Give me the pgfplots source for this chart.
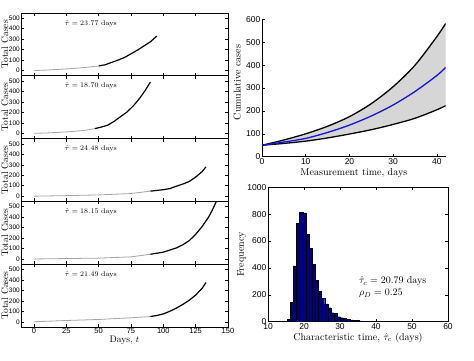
\documentclass[border=0pt]{standalone}
\usepackage{pgfplots}
\pgfplotsset{compat=1.18}
\usepackage{fontspec}
\newfontfamily\tickfont{Liberation Sans}
\definecolor{gline}{RGB}{165,165,165}
\definecolor{band}{RGB}{214,214,214}
\definecolor{navy}{RGB}{0,0,128}
\definecolor{mblue}{RGB}{20,20,225}

\pgfplotsset{
 leftpanel/.style={scale only axis, width=207pt, height=62.8pt,
   xmin=-10, xmax=150, ymin=-50, ymax=550,
   xtick={0,25,...,150}, ytick={0,100,...,500},
   axis line style={line width=0.6pt}, major tick length=3pt,
   tick style={line width=0.5pt, black},
   yticklabel style={font=\tickfont\fontsize{6.5}{7}\selectfont, inner sep=1pt},
   xticklabel style={font=\tickfont\fontsize{7.5}{8}\selectfont, inner sep=1pt},
   /pgf/number format/assume math mode=true,
   ylabel={Total Cases},
   ylabel style={at={(axis description cs:-0.078,0.5)}, anchor=center, font=\fontsize{9.5}{10}\selectfont},
   anchor=south west},
 rightpanel/.style={scale only axis, anchor=south west,
   axis line style={line width=0.6pt}, major tick length=3pt,
   tick style={line width=0.5pt, black},
   ticklabel style={font=\tickfont\fontsize{8.5}{9}\selectfont, inner sep=1.5pt},
   /pgf/number format/assume math mode=true,
   /pgf/number format/set thousands separator={},
   label style={font=\fontsize{10}{11}\selectfont}},
 gcurve/.style={gline, line width=0.8pt},
 bcurve/.style={black, line width=1.2pt},
}

\begin{document}
\begin{tikzpicture}
\useasboundingbox (0,0) rectangle (474pt,361pt);

% Panel 1
\begin{axis}[leftpanel, at={(21pt,285.2pt)}, xticklabels={}]
\addplot[gcurve] coordinates {(0,0) (10,5) (20,12) (30,20) (40,30) (50,44)};
\addplot[bcurve] coordinates {(50,44) (55,55) (60,78) (65,100) (70,125) (75,160) (80,195) (85,235) (90,275) (95,330)};
\node[font=\fontsize{7}{8}\selectfont] at (axis cs:44,450) {$\hat{\tau} = 23.77$ days};
\end{axis}

% Panel 2
\begin{axis}[leftpanel, at={(21pt,222.4pt)}, xticklabels={}]
\addplot[gcurve] coordinates {(0,0) (10,4) (20,10) (30,18) (40,30) (47,45)};
\addplot[bcurve] coordinates {(47,45) (52,60) (57,78) (62,115) (67,160) (72,205) (77,265) (82,340) (86,410) (90,490)};
\node[font=\fontsize{7}{8}\selectfont] at (axis cs:44,450) {$\hat{\tau} = 18.70$ days};
\end{axis}

% Panel 3
\begin{axis}[leftpanel, at={(21pt,159.6pt)}, xticklabels={}]
\addplot[gcurve] coordinates {(0,0) (25,5) (50,12) (75,25) (90,48)};
\addplot[bcurve] coordinates {(90,48) (95,55) (100,62) (105,72) (110,95) (115,115) (120,140) (125,182) (130,235) (133,280)};
\node[font=\fontsize{7}{8}\selectfont] at (axis cs:44,450) {$\hat{\tau} = 24.48$ days};
\end{axis}

% Panel 4
\begin{axis}[leftpanel, at={(21pt,96.8pt)}, xticklabels={}]
\addplot[gcurve] coordinates {(0,0) (25,4) (50,8) (75,20) (90,45)};
\addplot[bcurve] coordinates {(90,45) (95,55) (100,65) (105,85) (110,105) (115,135) (120,175) (125,235) (130,310) (135,400) (138,470) (141,550)};
\node[font=\fontsize{7}{8}\selectfont] at (axis cs:44,450) {$\hat{\tau} = 18.15$ days};
\end{axis}

% Panel 5
\begin{axis}[leftpanel, at={(21pt,34pt)}, xlabel={Days, $t$},
  xlabel style={at={(axis description cs:0.5,-0.21)}, anchor=center, font=\fontsize{9.5}{10}\selectfont}]
\addplot[gcurve] coordinates {(0,0) (25,12) (50,22) (75,38) (90,50)};
\addplot[bcurve] coordinates {(90,50) (95,60) (100,75) (105,100) (110,130) (115,165) (120,205) (125,255) (130,320) (133,375)};
\node[font=\fontsize{7}{8}\selectfont] at (axis cs:44,450) {$\hat{\tau} = 21.49$ days};
\end{axis}

% Top right
\begin{axis}[rightpanel, at={(262pt,204.3pt)}, width=183.7pt, height=137.4pt,
  xmin=0, xmax=42, ymin=0, ymax=600,
  axis x line*=bottom, axis y line*=left,
  xtick={0,10,...,40}, ytick={0,100,...,600},
  xlabel={Measurement time, days}, ylabel={Cumulative cases},
  xlabel style={at={(axis description cs:0.5,-0.12)}, anchor=center},
  ylabel style={at={(axis description cs:-0.135,0.54)}, anchor=center}]
\addplot[fill=band, draw=none] coordinates {(0,50) (5,73) (10,100) (15,133) (20,175) (25,232) (30,306) (35,400) (40,525) (42,582)
  (42,223) (40,205) (35,168) (30,141) (25,118) (20,99) (15,82) (10,68) (5,58) (0,50)};
\addplot[black, line width=1.3pt, smooth] coordinates {(0,50) (5,73) (10,100) (15,133) (20,175) (25,232) (30,306) (35,400) (40,525) (42,582)};
\addplot[black, line width=1.3pt, smooth] coordinates {(0,50) (5,58) (10,68) (15,82) (20,99) (25,118) (30,141) (35,168) (40,205) (42,223)};
\addplot[mblue, line width=1.3pt, smooth] coordinates {(0,50) (5,64) (10,80) (15,106) (20,138) (25,178) (30,226) (35,285) (40,355) (42,390)};
\end{axis}

% Histogram
\begin{axis}[rightpanel, at={(268pt,39.3pt)}, width=180pt, height=134.4pt,
  xmin=10, xmax=60, ymin=0, ymax=1000,
  xtick={10,20,...,60}, ytick={0,200,...,1000},
  xlabel={Characteristic time, $\hat{\tau}_c$ (days)}, ylabel={Frequency},
  xlabel style={at={(axis description cs:0.5,-0.12)}, anchor=center},
  ylabel style={at={(axis description cs:-0.147,0.5)}, anchor=center}]
\addplot[ybar interval, fill=navy, draw=black, line width=0.3pt] coordinates {
(15.30,18) (16.17,142) (17.04,415) (17.91,730) (18.78,815) (19.65,810)
(20.52,650) (21.39,545) (22.26,425) (23.13,310) (24.00,225) (24.87,175)
(25.74,132) (26.61,104) (27.48,67) (28.35,64) (29.22,37) (30.09,30)
(30.96,24) (31.83,18) (32.70,14) (33.57,10) (34.44,8) (35.31,6)
(36.18,4) (37.05,3) (37.92,2) (38.79,1) (39.66,1) (40.53,0)};
\node[anchor=west, font=\fontsize{10}{11}\selectfont] at (axis cs:34.3,300) {$\hat{\tau}_c = 20.79$ days};
\node[anchor=west, font=\fontsize{10}{11}\selectfont] at (axis cs:34.3,211) {$\rho_D = 0.25$};
\end{axis}
\end{tikzpicture}
\end{document}
